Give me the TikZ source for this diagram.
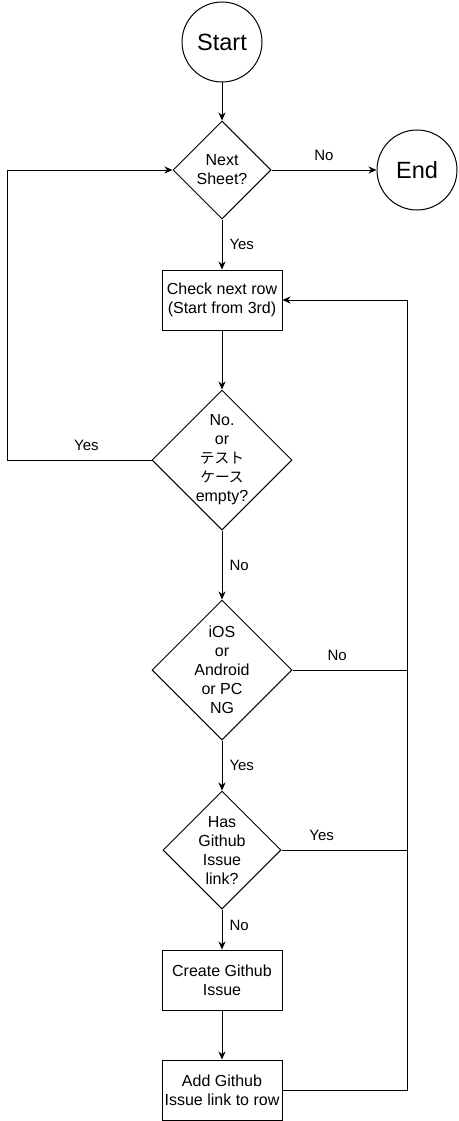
\documentclass[tikz,border=0pt]{standalone}
\usepackage{fontspec}
\setmainfont{Liberation Sans}
\newfontfamily\jpfont[Scale=0.92]{Noto Sans CJK JP}
\usetikzlibrary{arrows.meta, shapes.geometric}

\begin{document}
\begin{tikzpicture}[x=1pt, y=-1pt, line width=1pt,
  term/.style={circle, draw, minimum size=80pt, inner sep=0pt, font=\fontsize{23.5}{28}\selectfont},
  proc/.style={rectangle, draw, minimum width=120pt, minimum height=60pt, inner sep=2pt, align=center, font=\fontsize{16}{19}\selectfont},
  ask/.style={diamond, draw, aspect=1, minimum width=#1, minimum height=#1, inner sep=-15pt, align=center, font=\fontsize{16}{19}\selectfont},
  flow/.style={-{Stealth[length=8pt, width=7pt, inset=2.5pt]}},
  lbl/.style={inner sep=1pt, font=\fontsize{15}{18}\selectfont}]
  \def \xc{222}
  \useasboundingbox (0,0) rectangle (458,1121);

  \node[term] (start) at (\xc,42) {Start};
  \node[ask=98pt] (next) at (\xc,170) {Next\\Sheet?};
  \node[term] (end) at (417,170) {End};
  \node[proc] (check) at (\xc,300) {Check next row\\(Start from 3rd)};
  \node[ask=140pt] (empty) at (\xc,460) {No.\\or\\{\jpfont テスト}\\{\jpfont ケース}\\empty?};
  \node[ask=140pt] (ios) at (\xc,670) {iOS\\or\\Android\\or PC\\NG};
  \node[ask=118pt] (link) at (\xc,850) {Has\\Github\\Issue\\link?};
  \node[proc] (create) at (\xc,980) {Create Github\\Issue};
  \node[proc] (add) at (\xc,1090) {Add Github\\Issue link to row};
  \coordinate (railL) at (7,170);
  \coordinate (railR) at (407,300);

  \draw[flow] (start) -- (next);
  \draw[flow] (next) -- node[lbl, above=8pt] {No} (end);
  \draw[flow] (next) -- node[lbl, right=6pt] {Yes} (check);
  \draw[flow] (check) -- (empty);
  \draw[flow] (empty) -- (empty -| railL) node[lbl, pos=0.45, above=8pt] {Yes} -- (railL) -- (next);
  \draw[flow] (empty) -- node[lbl, right=6pt] {No} (ios);
  \draw (ios) -- node[lbl, pos=0.39, above=8pt] {No} (ios -| railR);
  \draw[flow] (ios) -- node[lbl, right=6pt] {Yes} (link);
  \draw (link) -- node[lbl, pos=0.32, above=8pt] {Yes} (link -| railR);
  \draw[flow] (link) -- node[lbl, pos=0.4, right=6pt] {No} (create);
  \draw[flow] (create) -- (add);
  \draw[flow] (add) -| (railR) -- (check);
\end{tikzpicture}
\end{document}
